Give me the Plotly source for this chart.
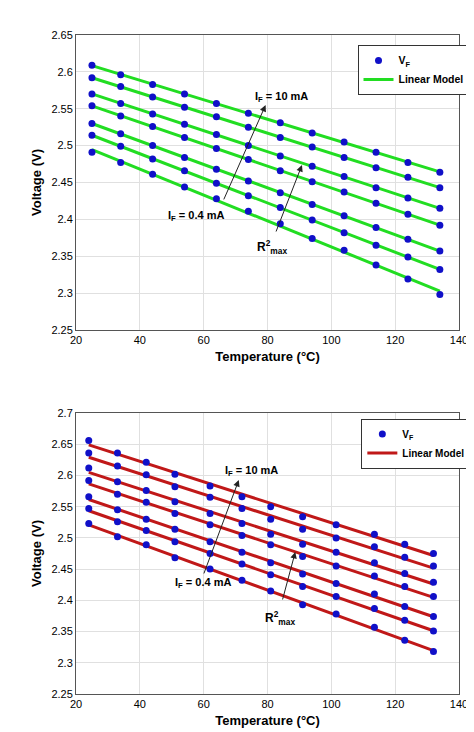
import numpy as np
import plotly.graph_objects as go
from plotly.subplots import make_subplots

temp_top = [25, 34, 44, 54, 64, 74, 84, 94, 104, 114, 124, 134]
vf_top = [
    [2.609, 2.596, 2.583, 2.570, 2.557, 2.544, 2.531, 2.517, 2.505, 2.491, 2.477, 2.464],
    [2.592, 2.580, 2.566, 2.552, 2.539, 2.525, 2.511, 2.498, 2.484, 2.470, 2.457, 2.443],
    [2.570, 2.557, 2.543, 2.529, 2.515, 2.500, 2.486, 2.472, 2.458, 2.443, 2.429, 2.415],
    [2.554, 2.540, 2.526, 2.511, 2.496, 2.481, 2.466, 2.451, 2.437, 2.422, 2.407, 2.392],
    [2.530, 2.516, 2.500, 2.484, 2.468, 2.452, 2.436, 2.420, 2.405, 2.389, 2.373, 2.357],
    [2.514, 2.499, 2.482, 2.466, 2.449, 2.432, 2.416, 2.399, 2.382, 2.365, 2.349, 2.332],
    [2.491, 2.477, 2.461, 2.444, 2.428, 2.411, 2.394, 2.374, 2.358, 2.338, 2.319, 2.298],
]
temp_bot = [24, 33, 42, 51, 62, 72, 81, 91, 101.5, 113.5, 123, 132]
vf_bot = [
    [2.656, 2.636, 2.621, 2.602, 2.583, 2.566, 2.550, 2.534, 2.521, 2.506, 2.490, 2.475],
    [2.636, 2.615, 2.601, 2.582, 2.565, 2.547, 2.530, 2.514, 2.500, 2.486, 2.469, 2.455],
    [2.612, 2.590, 2.576, 2.558, 2.539, 2.523, 2.506, 2.490, 2.477, 2.460, 2.443, 2.429],
    [2.592, 2.570, 2.557, 2.539, 2.521, 2.504, 2.489, 2.470, 2.455, 2.439, 2.422, 2.406],
    [2.566, 2.545, 2.530, 2.514, 2.494, 2.477, 2.460, 2.442, 2.427, 2.410, 2.390, 2.374],
    [2.547, 2.526, 2.512, 2.494, 2.475, 2.458, 2.441, 2.422, 2.406, 2.387, 2.368, 2.351],
    [2.523, 2.502, 2.489, 2.468, 2.450, 2.432, 2.415, 2.393, 2.378, 2.357, 2.336, 2.318],
]

FONT = "Liberation Sans"
fig = make_subplots(rows=2, cols=1, vertical_spacing=0.1)

def add_panel(row, temps, series, color, legend):
    t = np.array(temps)
    for i, v in enumerate(series):
        k, b = np.polyfit(t, v, 1)
        fig.add_trace(go.Scatter(x=temps, y=list(k * t + b), mode="lines",
                                 line=dict(color=color, width=3), name="<b>Linear Model</b>",
                                 legend=legend, showlegend=(i == 0), legendrank=2),
                      row=row, col=1)
    for i, v in enumerate(series):
        fig.add_trace(go.Scatter(x=temps, y=v, mode="markers",
                                 marker=dict(color="#1010c8", size=7), name="<b>V<sub>F</sub></b>",
                                 legend=legend, showlegend=(i == 0), legendrank=1),
                      row=row, col=1)

add_panel(1, temp_top, vf_top, "#22dd22", "legend")
add_panel(2, temp_bot, vf_bot, "#c01818", "legend2")

ax_common = dict(showgrid=True, gridcolor="#e0e0e0", showline=True, linecolor="#555",
                 mirror=True, ticks="", zeroline=False,
                 tickfont=dict(family=FONT, size=11, color="#000"))
for r in (1, 2):
    fig.update_xaxes(range=[20, 140], dtick=20, row=r, col=1,
                     title=dict(text="<b>Temperature (°C)</b>", font=dict(family=FONT, size=13, color="#000"), standoff=6),
                     **ax_common)
fig.update_yaxes(range=[2.25, 2.65], dtick=0.05, row=1, col=1,
                 title=dict(text="<b>Voltage (V)</b>", font=dict(family=FONT, size=13, color="#000"), standoff=6), **ax_common)
fig.update_yaxes(range=[2.25, 2.7], dtick=0.05, row=2, col=1,
                 title=dict(text="<b>Voltage (V)</b>", font=dict(family=FONT, size=13, color="#000"), standoff=6), **ax_common)

fig.update_layout(
    width=474, height=732, margin=dict(l=68, r=18, t=27, b=46),
    plot_bgcolor="white", paper_bgcolor="white",
    xaxis=dict(domain=[0, 1]), yaxis=dict(domain=[0.5524, 1]),
    yaxis2=dict(domain=[0, 0.4264]),
    legend=dict(x=0.735, y=0.985, xanchor="left", yanchor="top", bordercolor="#333", borderwidth=1,
                font=dict(family=FONT, size=10.5, color="#000"), bgcolor="white", itemwidth=30,
                tracegroupgap=0),
    legend2=dict(x=0.745, y=0.418, xanchor="left", yanchor="top", bordercolor="#333", borderwidth=1,
                 font=dict(family=FONT, size=10, color="#000"), bgcolor="white", itemwidth=30,
                 tracegroupgap=0),
    showlegend=True,
)

def arrow(xref, yref, tail, head):
    fig.add_annotation(x=head[0], y=head[1], ax=tail[0], ay=tail[1], xref=xref, yref=yref,
                       axref=xref, ayref=yref, showarrow=True, arrowhead=2, arrowsize=1.3,
                       arrowwidth=1, arrowcolor="#222", text="")

def label(xref, yref, x, y, txt, size=11):
    fig.add_annotation(x=x, y=y, xref=xref, yref=yref, text=txt, showarrow=False,
                       font=dict(family=FONT, size=size, color="#000"))

arrow("x", "y", (66.1, 2.425), (79.4, 2.555))
arrow("x", "y", (82.5, 2.3815), (90.8, 2.4737))
label("x", "y", 84.5, 2.566, "<b>I<sub>F</sub> = 10 mA</b>")
label("x", "y", 57.7, 2.405, "<b>I<sub>F</sub> = 0.4 mA</b>")
label("x", "y", 81.5, 2.362, "<b>R<sup>2</sup><sub>max</sub></b>", 12)
arrow("x2", "y2", (59.9, 2.4406), (71.0, 2.5927))
arrow("x2", "y2", (84.6, 2.399), (88.7, 2.4774))
label("x2", "y2", 75.0, 2.607, "<b>I<sub>F</sub> = 10 mA</b>")
label("x2", "y2", 59.9, 2.428, "<b>I<sub>F</sub> = 0.4 mA</b>")
label("x2", "y2", 84.0, 2.372, "<b>R<sup>2</sup><sub>max</sub></b>", 12)

fig.write_html("out.html")
